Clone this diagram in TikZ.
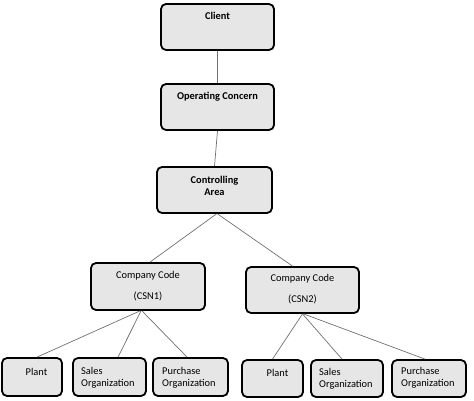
\documentclass[tikz,border=0pt]{standalone}
\usepackage{fontspec}
\setmainfont{Carlito}
\usetikzlibrary{positioning}
\definecolor{boxgray}{HTML}{E6E6E6}
\definecolor{linegray}{HTML}{707070}

\tikzset{
  box/.style={draw=black, line width=1.8pt, rounded corners=5pt, fill=boxgray,
    inner sep=0pt},
  txt/.style={inner sep=0pt, font=\fontsize{10.4}{12.3}\selectfont, align=center},
  btxt/.style={txt, font=\fontsize{10.4}{12.3}\selectfont\bfseries},
  ltxt/.style={txt, anchor=west, align=left},
  link/.style={draw=linegray, line width=0.7pt}
}

\begin{document}
\begin{tikzpicture}[x=1pt,y=-1pt]
\useasboundingbox (0,0) rectangle (474,401);

% Upper levels
\node[box, minimum width=113pt, minimum height=46pt] (client) at (217.5,27) {};
\node[box, minimum width=113pt, minimum height=46pt] (opcon) at (217.5,107) {};
\node[box, minimum width=115pt, minimum height=46pt] (ctrl) at (214.5,190) {};

\node[btxt] (client-t) at (217.5,16) {Client};
\node[btxt] (opcon-t) at (217.5,97) {Operating Concern};
\node[btxt] (ctrl-t) at (214.5,186) {Controlling\\Area};

% Company codes
\node[box, minimum width=114pt, minimum height=47pt] (csn1) at (148,286.5) {};
\node[box, minimum width=113pt, minimum height=46pt] (csn2) at (302.5,290) {};

\node[txt] (csn1-t) at (148,286.5) {Company Code\\[8.5pt](CSN1)};
\node[txt] (csn2-t) at (302.5,289.5) {Company Code\\[8.5pt](CSN2)};

% Lower level, CSN1
\node[box, minimum width=60pt, minimum height=38pt] (plant1) at (32,377) {};
\node[box, minimum width=73pt, minimum height=38pt] (sales1) at (109.5,377) {};
\node[box, minimum width=75pt, minimum height=38pt] (purch1) at (190.5,377) {};

\node[txt] (plant1-t) at (36.5,372) {Plant};
\node[ltxt] (sales1-t) at (81,378) {Sales\\Organization};
\node[ltxt] (purch1-t) at (162,378) {Purchase\\Organization};

% Lower level, CSN2
\node[box, minimum width=61pt, minimum height=37pt] (plant2) at (272.5,378.5) {};
\node[box, minimum width=72pt, minimum height=37pt] (sales2) at (347,378.5) {};
\node[box, minimum width=74pt, minimum height=37pt] (purch2) at (429,378.5) {};

\node[txt] (plant2-t) at (277.5,373) {Plant};
\node[ltxt] (sales2-t) at (319,379) {Sales\\Organization};
\node[ltxt] (purch2-t) at (401,378) {Purchase\\Organization};

% Connectors
\draw[link] (client.south) -- (opcon.north);
\draw[link] (opcon.south) -- (ctrl.north);
\draw[link] ([xshift=2pt]ctrl.south) -- ([xshift=2pt]csn1.north);
\draw[link] ([xshift=3pt]ctrl.south) -- ([xshift=-10pt]csn2.north);

\draw[link] ([xshift=-8pt]csn1.south) -- ([xshift=5pt]plant1.north);
\draw[link] ([xshift=-7pt]csn1.south) -- ([xshift=8.5pt]sales1.north);
\draw[link] ([xshift=-6pt]csn1.south) -- ([xshift=-3.5pt]purch1.north);

\draw[link] (csn2.south) -- (plant2.north);
\draw[link] (csn2.south) -- ([xshift=-5pt]sales2.north);
\draw[link] ([xshift=1pt]csn2.south) -- ([xshift=-4pt]purch2.north);
\end{tikzpicture}
\end{document}
